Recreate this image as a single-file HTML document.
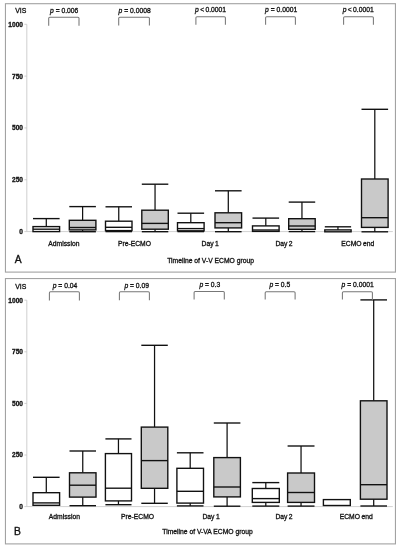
<!DOCTYPE html>
<html><head><meta charset="utf-8"><title>VIS timeline</title>
<style>
html,body{margin:0;padding:0;background:#fff;}
body{width:403px;height:550px;overflow:hidden;}
svg{display:block;font-family:"Liberation Sans",Arial,Helvetica,sans-serif;}
.bx path,.bx rect{stroke:#111;stroke-width:1.38;}
.bx path{fill:none;}
.bx path.st{stroke-width:1.25;}
.bx rect.g{fill:#c9c9c9;}
.br{stroke:#777;stroke-width:1.05;fill:none;}
.ax{stroke:#c4c4c4;stroke-width:0.8;fill:none;}
.frame{stroke:#a2a2a2;stroke-width:1.1;fill:#fff;}
text{fill:#111;stroke:#111;stroke-width:0.3px;}
.yl{font-size:6.6px;font-weight:bold;text-anchor:end;}
.xl{font-size:6.75px;text-anchor:middle;word-spacing:-0.4px;}
.cap{word-spacing:0;}
.p{font-size:6.75px;text-anchor:start;}
.it{font-style:italic;}
.vis{font-size:6.9px;text-anchor:start;}
.pl{font-size:10.3px;text-anchor:start;stroke-width:0.35px;}
</style></head><body>
<svg width="403" height="550" viewBox="0 0 403 550">
<rect x="0" y="0" width="403" height="550" fill="#fff"/>

<rect class="frame" x="5.45" y="3.7" width="390" height="268.40"/>
<path class="ax" d="M26.8 24.3V231.6H392.8M24.4 24.30H26.8M24.4 76.12H26.8M24.4 127.95H26.8M24.4 179.78H26.8M24.4 231.60H26.8"/>
<text class="yl" x="23" y="26.70">1000</text>
<text class="yl" x="23" y="78.53">750</text>
<text class="yl" x="23" y="130.35">500</text>
<text class="yl" x="23" y="182.18">250</text>
<text class="yl" x="23" y="234.00">0</text>
<text class="vis" x="15.2" y="13.1">VIS</text>
<text class="pl" x="14.7" y="263.0">A</text>
<text class="xl" x="63.9" y="246.2">Admission</text>
<text class="xl" x="134.4" y="246.2">Pre-ECMO</text>
<text class="xl" x="210.2" y="246.2">Day 1</text>
<text class="xl" x="284" y="246.2">Day 2</text>
<text class="xl" x="357.8" y="246.2">ECMO end</text>
<text class="xl cap" x="210.6" y="262.7">Timeline of V-V ECMO group</text>
<g class="bx">
<path d="M33 218.6H59.6" /><path class="st" d="M46.3 218.6V226.6" />
<rect x="33" y="226.6" width="26.60" height="5.00" fill="#fff" />
<path d="M33 229.2H59.6" />
<path d="M69.3 206.6H95.9" /><path class="st" d="M82.6 206.6V220.3" />
<path d="M69.3 231.7H95.9" /><path class="st" d="M82.6 229.9V231.7" />
<rect x="69.3" y="220.3" width="26.60" height="9.60" fill="#c9c9c9" />
<path d="M69.3 227.5H95.9" />
<path d="M105.5 206.8H132" /><path class="st" d="M118.75 206.8V221.2" />
<path d="M105.5 231.6H132" /><path class="st" d="M118.75 230.6V231.6" />
<rect x="105.5" y="221.2" width="26.50" height="9.40" fill="#fff" />
<path d="M105.5 227.3H132" />
<path d="M141.8 184.2H168.3" /><path class="st" d="M155.05 184.2V210.2" />
<path d="M141.8 231.7H168.3" /><path class="st" d="M155.05 229.2V231.7" />
<rect x="141.8" y="210.2" width="26.50" height="19.00" fill="#c9c9c9" />
<path d="M141.8 223.4H168.3" />
<path d="M177.5 213.2H204.1" /><path class="st" d="M190.8 213.2V222.7" />
<path d="M177.5 231.6H204.1" /><path class="st" d="M190.8 230.8V231.6" />
<rect x="177.5" y="222.7" width="26.60" height="8.10" fill="#fff" />
<path d="M177.5 228.6H204.1" />
<path d="M215 190.8H241.6" /><path class="st" d="M228.3 190.8V212.8" />
<path d="M215 231.7H241.6" /><path class="st" d="M228.3 227.9V231.7" />
<rect x="215" y="212.8" width="26.60" height="15.10" fill="#c9c9c9" />
<path d="M215 222.7H241.6" />
<path d="M252.5 218.1H279.1" /><path class="st" d="M265.8 218.1V225.9" />
<rect x="252.5" y="225.9" width="26.60" height="5.50" fill="#fff" />
<path d="M252.5 230.0H279.1" />
<path d="M288.7 202.1H315.2" /><path class="st" d="M301.95 202.1V218.7" />
<path d="M288.7 231.6H315.2" /><path class="st" d="M301.95 229.3V231.6" />
<rect x="288.7" y="218.7" width="26.50" height="10.60" fill="#c9c9c9" />
<path d="M288.7 226.0H315.2" />
<path d="M324.8 226.8H351.1" /><path class="st" d="M337.95000000000005 226.8V229.9" />
<rect x="324.8" y="229.9" width="26.30" height="1.90" fill="#fff" />
<path d="M361.5 109.3H388.1" /><path class="st" d="M374.8 109.3V179.0" />
<path d="M361.5 231.8H388.1" /><path class="st" d="M374.8 227.4V231.8" />
<rect x="361.5" y="179.0" width="26.60" height="48.40" fill="#c9c9c9" />
<path d="M361.5 217.7H388.1" />
</g>
<path class="br" d="M48.7 25.7V18.3Q48.7 17.2 49.800000000000004 17.2H77.9Q79.0 17.2 79.0 18.3V25.7" />
<text class="p" x="50.0" y="12.9"><tspan class="it">p</tspan> = 0.006</text>
<path class="br" d="M118.7 25.6V18.3Q118.7 17.2 119.8 17.2H148.3Q149.4 17.2 149.4 18.3V25.6" />
<text class="p" x="118.6" y="12.9"><tspan class="it">p</tspan> = 0.0008</text>
<path class="br" d="M195.9 24.8V17.8Q195.9 16.7 197.0 16.7H224.3Q225.4 16.7 225.4 17.8V24.8" />
<text class="p" x="195.1" y="11.8" style="word-spacing:-0.55px"><tspan class="it">p</tspan> &lt; 0.0001</text>
<path class="br" d="M265.6 24.8V17.8Q265.6 16.7 266.70000000000005 16.7H294.29999999999995Q295.4 16.7 295.4 17.8V24.8" />
<text class="p" x="265.1" y="12.4"><tspan class="it">p</tspan> = 0.0001</text>
<path class="br" d="M343.6 24.8V17.8Q343.6 16.7 344.70000000000005 16.7H372.29999999999995Q373.4 16.7 373.4 17.8V24.8" />
<text class="p" x="342.7" y="12.1" style="word-spacing:-0.55px"><tspan class="it">p</tspan> &lt; 0.0001</text>
<rect class="frame" x="5.45" y="278.55" width="390" height="265.35"/>
<path class="ax" d="M26.8 300.2V506.6H392.8M24.4 300.20H26.8M24.4 351.80H26.8M24.4 403.40H26.8M24.4 455.00H26.8M24.4 506.60H26.8"/>
<text class="yl" x="23" y="302.60">1000</text>
<text class="yl" x="23" y="354.20">750</text>
<text class="yl" x="23" y="405.80">500</text>
<text class="yl" x="23" y="457.40">250</text>
<text class="yl" x="23" y="509.00">0</text>
<text class="vis" x="15.2" y="288.6">VIS</text>
<text class="pl" x="14.1" y="535.1">B</text>
<text class="xl" x="64.4" y="519.0">Admission</text>
<text class="xl" x="137.6" y="519.0">Pre-ECMO</text>
<text class="xl" x="211.1" y="519.0">Day 1</text>
<text class="xl" x="284" y="519.0">Day 2</text>
<text class="xl" x="356.2" y="519.0">ECMO end</text>
<text class="xl cap" x="207.5" y="534.3">Timeline of V-VA ECMO group</text>
<g class="bx">
<path d="M33 477.3H59.6" /><path class="st" d="M46.3 477.3V492.7" />
<rect x="33" y="492.7" width="26.60" height="12.60" fill="#fff" />
<path d="M33 502.9H59.6" />
<path d="M69.5 451.0H96" /><path class="st" d="M82.75 451.0V472.8" />
<path d="M69.5 505.7H96" /><path class="st" d="M82.75 497.1V505.7" />
<rect x="69.5" y="472.8" width="26.50" height="24.30" fill="#c9c9c9" />
<path d="M69.5 485.2H96" />
<path d="M105.4 438.9H131.5" /><path class="st" d="M118.45 438.9V453.6" />
<path d="M105.4 504.7H131.5" /><path class="st" d="M118.45 500.9V504.7" />
<rect x="105.4" y="453.6" width="26.10" height="47.30" fill="#fff" />
<path d="M105.4 488.2H131.5" />
<path d="M141.3 345.3H167.8" /><path class="st" d="M154.55 345.3V427.1" />
<path d="M141.3 503.3H167.8" /><path class="st" d="M154.55 488.3V503.3" />
<rect x="141.3" y="427.1" width="26.50" height="61.20" fill="#c9c9c9" />
<path d="M141.3 460.6H167.8" />
<path d="M176.9 452.8H203.5" /><path class="st" d="M190.2 452.8V468.3" />
<path d="M176.9 505.9H203.5" /><path class="st" d="M190.2 503.1V505.9" />
<rect x="176.9" y="468.3" width="26.60" height="34.80" fill="#fff" />
<path d="M176.9 491.3H203.5" />
<path d="M213.8 423.0H240.4" /><path class="st" d="M227.10000000000002 423.0V457.6" />
<path d="M213.8 506.2H240.4" /><path class="st" d="M227.10000000000002 496.9V506.2" />
<rect x="213.8" y="457.6" width="26.60" height="39.30" fill="#c9c9c9" />
<path d="M213.8 487.0H240.4" />
<path d="M252.3 482.6H279.3" /><path class="st" d="M265.8 482.6V488.5" />
<path d="M252.3 506.1H279.3" /><path class="st" d="M265.8 502.4V506.1" />
<rect x="252.3" y="488.5" width="27.00" height="13.90" fill="#fff" />
<path d="M252.3 498.6H279.3" />
<path d="M287.6 446.0H314.5" /><path class="st" d="M301.05 446.0V473.0" />
<path d="M287.6 506.1H314.5" /><path class="st" d="M301.05 502.4V506.1" />
<rect x="287.6" y="473.0" width="26.90" height="29.40" fill="#c9c9c9" />
<path d="M287.6 492.5H314.5" />
<rect x="323.4" y="499.6" width="26.90" height="5.90" fill="#fff" />
<path d="M360.4 299.9H387.0" /><path class="st" d="M373.7 299.9V400.8" />
<path d="M360.4 506.0H387.0" /><path class="st" d="M373.7 499.2V506.0" />
<rect x="360.4" y="400.8" width="26.60" height="98.40" fill="#c9c9c9" />
<path d="M360.4 484.7H387.0" />
</g>
<path class="br" d="M49.4 300.6V292.90000000000003Q49.4 291.8 50.5 291.8H78.30000000000001Q79.4 291.8 79.4 292.90000000000003V300.6" />
<text class="p" x="52.7" y="288.0"><tspan class="it">p</tspan> = 0.04</text>
<path class="br" d="M119.4 300.3V292.90000000000003Q119.4 291.8 120.5 291.8H148.3Q149.4 291.8 149.4 292.90000000000003V300.3" />
<text class="p" x="124.4" y="287.7"><tspan class="it">p</tspan> = 0.09</text>
<path class="br" d="M194.1 299.6V292.6Q194.1 291.5 195.2 291.5H223.20000000000002Q224.3 291.5 224.3 292.6V299.6" />
<text class="p" x="199.4" y="286.8"><tspan class="it">p</tspan> = 0.3</text>
<path class="br" d="M265.2 299.6V292.8Q265.2 291.7 266.3 291.7H294.0Q295.1 291.7 295.1 292.8V299.6" />
<text class="p" x="269.4" y="287.3"><tspan class="it">p</tspan> = 0.5</text>
<path class="br" d="M342.4 299.6V292.8Q342.4 291.7 343.5 291.7H371.29999999999995Q372.4 291.7 372.4 292.8V299.9" />
<text class="p" x="341.6" y="286.8"><tspan class="it">p</tspan> = 0.0001</text>
</svg></body></html>
